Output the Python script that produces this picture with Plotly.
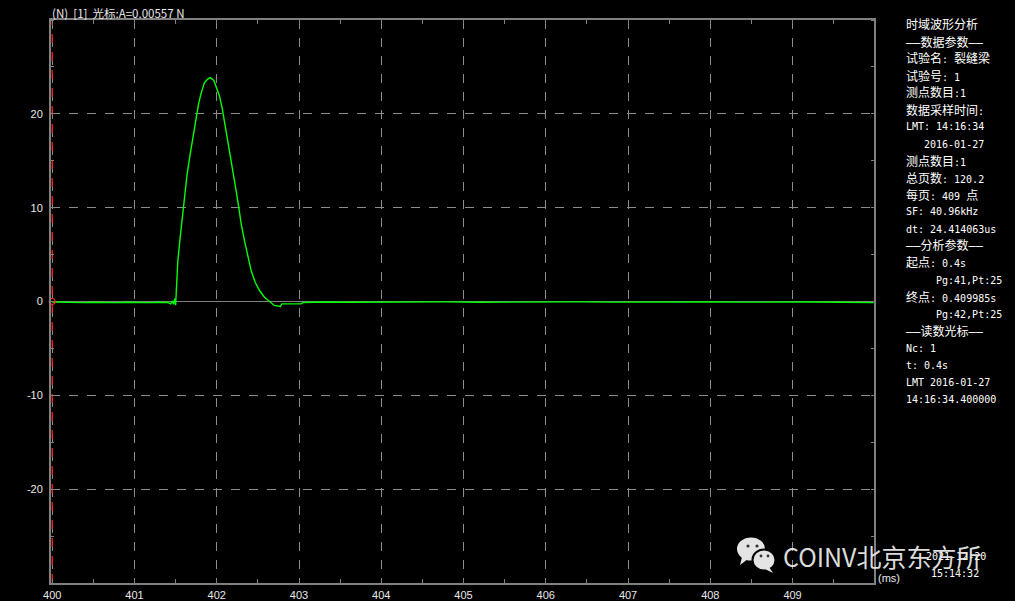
import re
import plotly.graph_objects as go

# ---- data ----
time_ms = [400.00, 400.10, 400.20, 400.30, 400.40, 400.50, 400.60, 400.70, 400.80, 400.90,
           401.00, 401.10, 401.20, 401.30, 401.40, 401.44, 401.46, 401.475, 401.49, 401.50,
           401.507, 401.527, 401.555, 401.588, 401.608, 401.64, 401.677, 401.71, 401.741, 401.778,
           401.81, 401.85, 401.89, 401.92, 401.965, 402.00, 402.033, 402.066, 402.10, 402.135,
           402.167, 402.20, 402.236, 402.268, 402.297, 402.337, 402.378, 402.418, 402.467, 402.52,
           402.58, 402.64, 402.70, 402.774, 402.79, 402.90, 403.025, 403.05, 403.30, 403.60,
           404.00, 404.40, 404.80, 405.20, 405.60, 406.00, 406.40, 406.80, 407.20, 407.60,
           408.00, 408.40, 408.80, 409.20, 409.60, 409.985]
force_N = [-0.05, -0.08, -0.10, -0.06, -0.12, -0.08, -0.10, -0.05, -0.12, -0.08,
           -0.10, -0.06, -0.12, -0.08, -0.10, -0.25, 0.05, -0.30, 0.30, -0.40,
           1.17, 4.36, 6.8, 9.3, 11.1, 13.6, 15.7, 17.5, 19.05, 21.0,
           22.2, 23.3, 23.7, 23.85, 23.55, 22.8, 21.9, 20.6, 18.9, 17.3,
           15.3, 13.6, 11.8, 10.0, 8.26, 6.48, 4.7, 3.3, 2.05, 1.17,
           0.46, 0.0, -0.42, -0.53, -0.25, -0.25, -0.25, -0.10, -0.05, -0.08,
           -0.05, -0.06, -0.04, -0.08, -0.05, -0.06, -0.04, -0.07, -0.05, -0.06,
           -0.05, -0.07, -0.04, -0.06, -0.08, -0.12]

cursor_t = 400.0
cursor_A = 0.00557

x_range = [399.985, 409.99]
y_range = [-30, 30]
x_ticks = [400, 401, 402, 403, 404, 405, 406, 407, 408, 409]
y_ticks = [-20, -10, 0, 10, 20]

panel_lines = ["时域波形分析", "——数据参数——", "试验名: 裂缝梁", "试验号: 1", "测点数目:1",
               "数据采样时间:", "LMT: 14:16:34", "2016-01-27", "测点数目:1", "总页数: 120.2",
               "每页: 409 点", "SF: 40.96kHz", "dt: 24.414063us", "——分析参数——", "起点: 0.4s",
               "Pg:41,Pt:25", "终点: 0.409985s", "Pg:42,Pt:25", "——读数光标——", "Nc: 1",
               "t: 0.4s", "LMT 2016-01-27", "14:16:34.400000"]
panel_indent = [0, 0, 0, 0, 0, 0, 0, 18, 0, 0, 0, 0, 0, 0, 0, 30, 0, 30, 0, 0, 0, 0, 0]

# ---- layout geometry (pixels) ----
L, R, T, B = 51, 874, 20, 583
W, H = R - L, B - T


def px(xp):
    return (xp - L) / W


def py(yp):
    return (B - yp) / H


def mixed(s):
    # CJK runs slightly larger than the monospaced latin runs
    return re.sub(r"([\u2014\u3000-\u9fff]+)", r'<span style="font-size:12px">\1</span>', s)


GRAY = "#808080"
TXT = "#e8e8e8"

fig = go.Figure()

fig.add_trace(go.Scatter(x=[cursor_t, cursor_t], y=y_range, mode="lines",
                         line=dict(color="#ff2020", width=1.3, dash="dash"),
                         hoverinfo="skip", showlegend=False))
fig.add_trace(go.Scatter(x=time_ms, y=force_N, mode="lines",
                         line=dict(color="#00ff00", width=1.4),
                         showlegend=False))
fig.add_trace(go.Scatter(x=[cursor_t], y=[cursor_A], mode="markers",
                         marker=dict(symbol="circle-open", color="#ff2020", size=6, line=dict(width=1.2)),
                         showlegend=False, cliponaxis=False))

axis_common = dict(showline=True, mirror="allticks", linecolor=GRAY, linewidth=2,
                   showgrid=True, gridcolor="#8c8c8c", griddash="dash", gridwidth=1,
                   ticks="", tickfont=dict(family="Liberation Sans", size=11, color=TXT),
                   fixedrange=True, automargin=False)

fig.update_layout(
    width=1015, height=601, autosize=False,
    margin=dict(l=L, r=1015 - R, t=T, b=601 - B, autoexpand=False),
    paper_bgcolor="black", plot_bgcolor="black",
    xaxis=dict(range=x_range, tickvals=x_ticks, ticktext=[str(v) for v in x_ticks],
               zeroline=False,
               minor=dict(dtick=0.5, tick0=400, ticks="inside", ticklen=4, tickcolor=GRAY, showgrid=False),
               ticklabelstandoff=1, **axis_common),
    yaxis=dict(range=y_range, tickvals=y_ticks, ticktext=[str(v) for v in y_ticks],
               zeroline=True, zerolinecolor=GRAY, zerolinewidth=1,
               minor=dict(dtick=5, tick0=0, ticks="inside", ticklen=3, tickcolor=GRAY, showgrid=False),
               ticklabelstandoff=4, **axis_common),
    font=dict(family="Noto Sans CJK SC", color=TXT),
)

ann = []
ann.append(dict(text=f"(N)  [1]  光标:A={cursor_A} N", x=px(50), y=py(13), xref="paper", yref="paper",
                xanchor="left", yanchor="middle", showarrow=False,
                font=dict(family="Noto Sans CJK SC", size=11.5, color=TXT)))
ann.append(dict(text="(ms)", x=px(876), y=py(578), xref="paper", yref="paper",
                xanchor="left", yanchor="middle", showarrow=False,
                font=dict(family="Liberation Sans", size=11, color=TXT)))
for i, (line, ind) in enumerate(zip(panel_lines, panel_indent)):
    ann.append(dict(text=mixed(line), x=px(904 + ind), y=py(25 + 17.0 * i), xref="paper", yref="paper",
                    xanchor="left", yanchor="middle", showarrow=False,
                    font=dict(family="DejaVu Sans Mono, Noto Sans CJK SC", size=10, color="white")))
ann.append(dict(text="2021-12-20", x=px(924), y=py(556), xref="paper", yref="paper",
                xanchor="left", yanchor="middle", showarrow=False,
                font=dict(family="DejaVu Sans Mono", size=10, color="white")))
ann.append(dict(text="15:14:32", x=px(929), y=py(573), xref="paper", yref="paper",
                xanchor="left", yanchor="middle", showarrow=False,
                font=dict(family="DejaVu Sans Mono", size=10, color="white")))
# watermark
ann.append(dict(text="COINV北京东方所", x=px(781), y=py(556), xref="paper", yref="paper",
                xanchor="left", yanchor="middle", showarrow=False,
                font=dict(family="Noto Sans CJK SC", size=25, color="rgba(235,235,235,0.95)")))
fig.update_layout(annotations=ann)

# wechat-like icon of the watermark
shapes = []


def ell(cx, cy, rx, ry, fill, lw):
    return dict(type="circle", xref="paper", yref="paper",
                x0=px(cx - rx), x1=px(cx + rx), y0=py(cy + ry), y1=py(cy - ry),
                fillcolor=fill, line=dict(color="black", width=lw), layer="above")


shapes.append(ell(751, 549, 14, 11.5, "rgb(228,228,228)", 0))
shapes.append(dict(type="path", xref="paper", yref="paper",
                   path=f"M {px(742)},{py(557)} L {px(740)},{py(565)} L {px(748)},{py(559)} Z",
                   fillcolor="rgb(228,228,228)", line=dict(width=0), layer="above"))
shapes.append(ell(764, 560, 11.5, 10.5, "rgb(228,228,228)", 2))
shapes.append(dict(type="path", xref="paper", yref="paper",
                   path=f"M {px(769)},{py(567)} L {px(773)},{py(573)} L {px(765)},{py(569)} Z",
                   fillcolor="rgb(228,228,228)", line=dict(width=0), layer="above"))
for (cx, cy, r) in [(748, 546, 1.6), (757, 546, 1.6), (761, 556, 1.4), (768, 556, 1.4)]:
    shapes.append(dict(type="circle", xref="paper", yref="paper",
                       x0=px(cx - r), x1=px(cx + r), y0=py(cy + r), y1=py(cy - r),
                       fillcolor="#333", line=dict(width=0), layer="above"))
fig.update_layout(shapes=shapes)

fig.write_html("out.html", config={"displayModeBar": False},
               post_script="document.body.style.margin='0';")
